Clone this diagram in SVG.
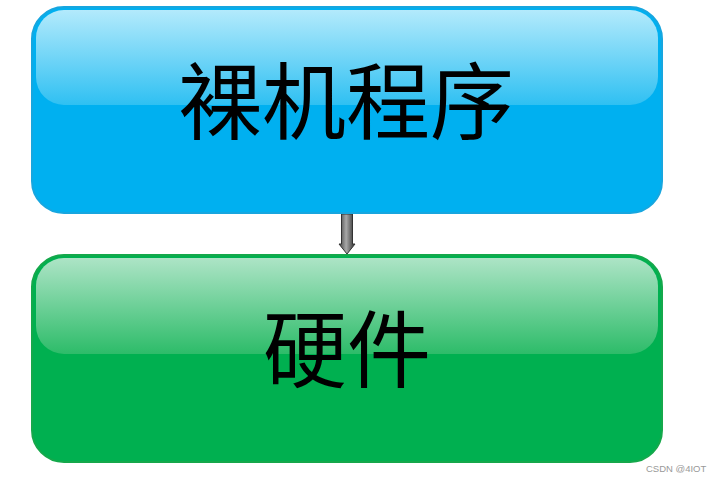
<svg xmlns="http://www.w3.org/2000/svg" width="719" height="482" viewBox="0 0 719 482">
<defs>
<linearGradient id="gBlue" x1="0" y1="0" x2="0" y2="1">
<stop offset="0" stop-color="#b3eafc"/>
<stop offset="1" stop-color="#2fc0f2"/>
</linearGradient>
<linearGradient id="gGreen" x1="0" y1="0" x2="0" y2="1">
<stop offset="0" stop-color="#ade4c6"/>
<stop offset="1" stop-color="#2dbc69"/>
</linearGradient>
<linearGradient id="gArrow" x1="0" y1="0" x2="1" y2="0">
<stop offset="0" stop-color="#404040"/>
<stop offset="0.45" stop-color="#a8a8a8"/>
<stop offset="1" stop-color="#2a2a2a"/>
</linearGradient>
<style>
.lbl{font-family:"Liberation Serif","Noto Sans CJK SC",serif;font-size:84px;fill:#000;text-anchor:middle;dominant-baseline:central}
.wm{font-family:"Liberation Sans",Arial,sans-serif;font-size:9.5px;fill:#999}
</style>
</defs>
<rect width="719" height="482" fill="#fff"/>
<g id="connectors">
<path d="M341.5 214 V244 H339 L347 254 L355 244 H352.5 V214 Z" fill="url(#gArrow)" stroke="#333" stroke-width="1"/>
</g>
<g id="node-baremetal">
<rect x="32" y="7" width="630" height="206" rx="32" fill="#00b0f0" stroke="#17a6df" stroke-width="2"/>
<rect x="36" y="10" width="622" height="95" rx="28" fill="url(#gBlue)"/>
<text class="lbl" x="346" y="104">裸机程序</text>
</g>
<g id="node-hardware">
<rect x="32" y="255" width="630" height="207" rx="32" fill="#00b050" stroke="#15a84b" stroke-width="2"/>
<rect x="36" y="258" width="622" height="96" rx="28" fill="url(#gGreen)"/>
<text class="lbl" x="347" y="352">硬件</text>
</g>
<text class="wm" x="646" y="472">CSDN @4IOT</text>
</svg>
